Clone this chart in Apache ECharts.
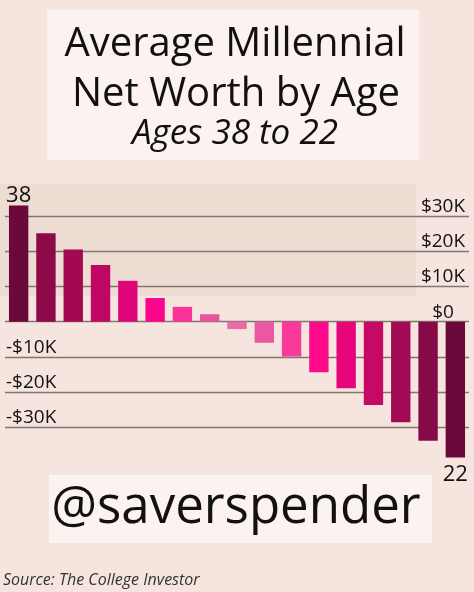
<!DOCTYPE html>
<html>
<head>
<meta charset="utf-8">
<script src="https://cdn.jsdelivr.net/npm/echarts@6/dist/echarts.min.js"></script>
<style>
  html, body { margin: 0; padding: 0; background: #f6e5de; }
  #chart { width: 474px; height: 592px; }
</style>
</head>
<body>
<div id="chart"></div>
<script>
// ages, oldest first
const ages = [38, 37, 36, 35, 34, 33, 32, 31, 30, 29, 28, 27, 26, 25, 24, 23, 22]
// average net worth, dollars
const netWorth = [33000, 25100, 20500, 16100, 11600, 6700, 4200, 2100, -2100, -6000, -9900, -14400, -18900, -23700, -28600, -33800, -38600]
const tickValues = [-30000, -20000, -10000, 0, 10000, 20000, 30000]
const tickLabels = ['-$30K', '-$20K', '-$10K', '$0', '$10K', '$20K', '$30K']
const barColors = ['#6b0a3a', '#8c0a4a', '#a30852', '#c00663', '#e0057a', '#fa058c', '#f8339b', '#e8529f',
  '#ea6aa8', '#ea58a3', '#f93a9a', '#fe0a8a', '#e6067a', '#c50a66', '#a20a55', '#860a47', '#6b0a3a']

const FONT = '"Open Sans", Lato, sans-serif'

function tickLabel(v) {
  const i = tickValues.indexOf(v)
  return i < 0 ? '' : tickLabels[i]
}

const chart = echarts.init(document.getElementById('chart'), null, { renderer: 'canvas' })

const last = ages.length - 1
const barData = netWorth.map((v, i) => {
  const item = { value: v, itemStyle: { color: barColors[i] } }
  if (i === 0) {
    item.label = { show: true, position: 'top', distance: -1, formatter: String(ages[i]) }
  } else if (i === last) {
    item.label = { show: true, position: 'bottom', distance: 6, formatter: String(ages[i]) }
  }
  return item
})

chart.setOption({
  animation: false,
  backgroundColor: '#f6e5de',
  graphic: [
    // wood streak patch behind the upper bars
    { type: 'rect', z: -10, silent: true, shape: { x: 0, y: 184, width: 416, height: 112 },
      style: { fill: '#ebdacd', opacity: 0.8 } },
    // pale boxes behind the headings
    { type: 'rect', z: -9, silent: true, shape: { x: 47, y: 10, width: 372, height: 150 },
      style: { fill: '#fcf3f0' } },
    { type: 'rect', z: -9, silent: true, shape: { x: 49, y: 475, width: 383, height: 68 },
      style: { fill: '#fcf3f0' } },
    { type: 'text', silent: true, style: { text: 'Average Millennial', x: 235, y: 25,
      align: 'center', verticalAlign: 'top', font: '40px ' + FONT, fill: '#111' } },
    { type: 'text', silent: true, style: { text: 'Net Worth by Age', x: 236, y: 75,
      align: 'center', verticalAlign: 'top', font: '40px ' + FONT, fill: '#111' } },
    { type: 'text', silent: true, style: { text: 'Ages 38 to 22', x: 235, y: 117,
      align: 'center', verticalAlign: 'top', font: 'italic 35px ' + FONT, fill: '#111' } },
    { type: 'text', silent: true, style: { text: '@saverspender', x: 236, y: 483,
      align: 'center', verticalAlign: 'top', font: '51px ' + FONT, fill: '#111' } },
    { type: 'text', silent: true, style: { text: 'Source: The College Investor', x: 3, y: 572,
      align: 'left', verticalAlign: 'top', font: 'italic 16px ' + FONT, fill: '#333' } }
  ],
  grid: {
    left: 5,
    right: 5,
    top: 216,
    bottom: 164.7
  },
  xAxis: {
    type: 'category',
    data: ages,
    axisLine: { show: false },
    axisTick: { show: false },
    axisLabel: { show: false }
  },
  yAxis: [{
    type: 'value',
    position: 'left',
    min: -30000,
    max: 30000,
    interval: 10000,
    axisLine: { show: false },
    axisTick: { show: false },
    splitLine: { lineStyle: { color: '#7f776f', width: 1.3 } },
    axisLabel: {
      inside: true,
      margin: 1,
      align: 'left',
      verticalAlign: 'bottom',
      fontFamily: FONT,
      fontSize: 19,
      color: '#111',
      formatter: v => (v < 0 ? tickLabel(v) : '')
    }
  }, {
    type: 'value',
    position: 'right',
    min: -30000,
    max: 30000,
    interval: 10000,
    axisLine: { show: false },
    axisTick: { show: false },
    splitLine: { show: false },
    axisLabel: {
      inside: true,
      margin: 26,
      align: 'center',
      verticalAlign: 'bottom',
      fontFamily: FONT,
      fontSize: 19,
      color: '#111',
      formatter: v => (v >= 0 ? tickLabel(v) : '')
    }
  }],
  series: [{
    type: 'bar',
    data: barData,
    clip: false,
    barCategoryGap: '29%',
    label: { fontFamily: FONT, fontSize: 22, color: '#111' }
  }]
})
</script>
</body>
</html>
